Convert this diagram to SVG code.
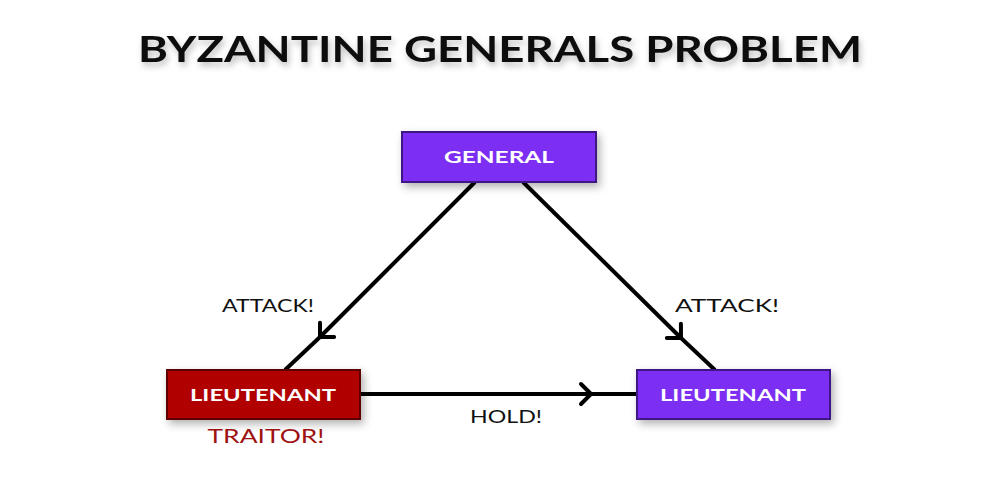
<svg xmlns="http://www.w3.org/2000/svg" width="1000" height="500" viewBox="0 0 1000 500">
  <style>
    .t { font-family: "Lato", "DejaVu Sans", sans-serif; font-weight: 700; text-anchor: middle; }
    .title { font-size: 36px; fill: #111; }
    .box-p { fill: #7b2ff2; stroke: #3f1585; stroke-width: 2; }
    .box-r { fill: #b10000; stroke: #5e0000; stroke-width: 2; }
    .lbl-w { font-size: 17px; fill: #ffffff; }
    .lbl { font-size: 18px; fill: #111; font-weight: 400; }
    .traitor { font-size: 19px; fill: #9e1212; font-weight: 400; }
    .conn { fill: none; stroke: #000; stroke-width: 4; }
  </style>
  <defs>
    <filter id="sh" x="-20%" y="-30%" width="150%" height="180%">
      <feDropShadow dx="3" dy="4" stdDeviation="4" flood-color="#000" flood-opacity="0.3"/>
    </filter>
    <filter id="tsh" x="-5%" y="-40%" width="110%" height="200%">
      <feDropShadow dx="2" dy="4" stdDeviation="3" flood-color="#000" flood-opacity="0.25"/>
    </filter>
    <marker id="chev" markerUnits="userSpaceOnUse" viewBox="-14 -14 20 28" markerWidth="20" markerHeight="28" refX="0" refY="0" orient="auto">
      <path d="M-10,-10 L0,0 L-10,10" fill="none" stroke="#000" stroke-width="4" stroke-linecap="round" stroke-linejoin="round"/>
    </marker>
  </defs>
  <rect width="1000" height="500" fill="#ffffff"/>

  <text class="t title" x="500" y="62" textLength="724" lengthAdjust="spacingAndGlyphs" filter="url(#tsh)">BYZANTINE GENERALS PROBLEM</text>

  <g id="connectors">
    <path class="conn" d="M475,182 L320,337" marker-end="url(#chev)"/>
    <path class="conn" d="M320,337 L285,370"/>
    <path class="conn" d="M523,182 L681,338" marker-end="url(#chev)"/>
    <path class="conn" d="M681,338 L715,370"/>
    <path class="conn" d="M360,394 L591,394" marker-end="url(#chev)"/>
    <path class="conn" d="M591,394 L637,394"/>
  </g>

  <g id="labels">
    <text class="t lbl" x="268" y="312" textLength="92" lengthAdjust="spacingAndGlyphs">ATTACK!</text>
    <text class="t lbl" x="727" y="312" textLength="104" lengthAdjust="spacingAndGlyphs">ATTACK!</text>
    <text class="t lbl" x="506" y="423" textLength="72" lengthAdjust="spacingAndGlyphs">HOLD!</text>
  </g>

  <g id="general">
    <rect class="box-p" x="402" y="132" width="194" height="50" filter="url(#sh)"/>
    <text class="t lbl-w" x="499" y="163" textLength="110" lengthAdjust="spacingAndGlyphs">GENERAL</text>
  </g>

  <g id="lieutenant-traitor">
    <rect class="box-r" x="167" y="370" width="193" height="49" filter="url(#sh)"/>
    <text class="t lbl-w" x="263" y="401" textLength="146" lengthAdjust="spacingAndGlyphs">LIEUTENANT</text>
    <text class="t traitor" x="266" y="443" textLength="117" lengthAdjust="spacingAndGlyphs">TRAITOR!</text>
  </g>

  <g id="lieutenant-loyal">
    <rect class="box-p" x="637" y="370" width="193" height="49" filter="url(#sh)"/>
    <text class="t lbl-w" x="733" y="401" textLength="146" lengthAdjust="spacingAndGlyphs">LIEUTENANT</text>
  </g>
</svg>
